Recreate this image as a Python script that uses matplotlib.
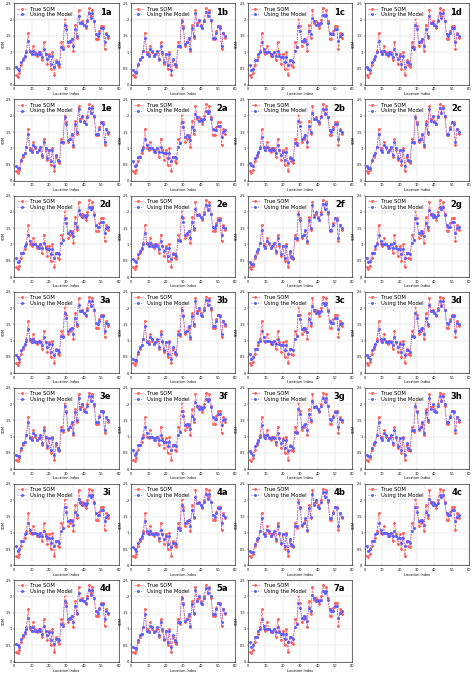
import matplotlib.pyplot as plt

# panel labels
panels = ["1a", "1b", "1c", "1d", "1e", "2a", "2b", "2c", "2d", "2e", "2f", "2g",
          "3a", "3b", "3c", "3d", "3e", "3f", "3g", "3h", "3i", "4a", "4b", "4c",
          "4d", "5a", "7a"]

location = list(range(1, 55))

true_som = [0.30, 0.25, 0.35, 0.60, 0.75, 0.85, 1.05, 1.60, 1.00, 0.95,
            1.20, 1.00, 0.90, 0.95, 1.00, 0.75, 1.30, 0.95, 0.65, 0.95,
            0.50, 1.00, 0.30, 0.75, 0.60, 0.55, 1.30, 1.15, 2.05, 1.80,
            1.20, 1.30, 1.40, 1.05, 1.85, 1.45, 2.30, 1.90, 1.95, 1.85,
            1.75, 2.00, 2.35, 2.10, 2.30, 1.95, 1.40, 1.40, 1.65, 1.80,
            1.80, 1.10, 1.60, 1.45]

model_a = [0.55, 0.50, 0.45, 0.70, 0.80, 0.90, 1.00, 1.35, 1.05, 0.95,
           1.05, 0.95, 0.95, 1.00, 0.95, 0.85, 1.10, 0.95, 0.80, 0.90,
           0.65, 0.90, 0.55, 0.70, 0.70, 0.65, 1.15, 1.10, 1.85, 1.70,
           1.30, 1.35, 1.40, 1.20, 1.70, 1.50, 2.10, 1.90, 1.90, 1.85,
           1.80, 1.95, 2.20, 2.05, 2.20, 1.95, 1.55, 1.50, 1.60, 1.75,
           1.75, 1.30, 1.55, 1.50]

model_b = [0.45, 0.40, 0.40, 0.65, 0.80, 0.85, 1.05, 1.45, 0.95, 0.90,
           1.10, 1.05, 0.90, 0.95, 1.05, 0.80, 1.20, 1.00, 0.70, 0.95,
           0.60, 0.95, 0.45, 0.80, 0.65, 0.60, 1.20, 1.20, 1.95, 1.75,
           1.25, 1.30, 1.45, 1.10, 1.75, 1.50, 2.20, 1.85, 2.00, 1.80,
           1.75, 1.95, 2.25, 2.10, 2.25, 2.00, 1.45, 1.45, 1.60, 1.80,
           1.75, 1.20, 1.60, 1.50]

model_c = [0.60, 0.45, 0.50, 0.75, 0.75, 0.95, 1.00, 1.30, 1.10, 1.00,
           1.00, 1.00, 0.95, 0.90, 1.00, 0.90, 1.05, 0.90, 0.85, 0.85,
           0.70, 0.85, 0.60, 0.75, 0.75, 0.70, 1.05, 1.15, 1.80, 1.65,
           1.35, 1.40, 1.35, 1.25, 1.65, 1.55, 2.05, 1.95, 1.85, 1.90,
           1.85, 1.90, 2.15, 2.10, 2.15, 1.90, 1.60, 1.55, 1.55, 1.70,
           1.70, 1.35, 1.50, 1.55]

models = [model_a, model_b, model_c]

fig, axes = plt.subplots(7, 4, figsize=(4.74, 6.75), dpi=100)
axes = axes.ravel()

for i, ax in enumerate(axes):
    if i >= len(panels):
        ax.axis("off")
        continue
    ax.plot(location, true_som, color="#ff6060", linestyle="--", marker="*",
            markersize=1.5, linewidth=0.5, label="True SOM")
    ax.plot(location, models[i % 3], color="#6060ff", linestyle=":", marker="o",
            markersize=1.2, markerfacecolor="none", linewidth=0.6,
            label="Using the Model")
    ax.set_xlim(0, 60)
    ax.set_ylim(0, 2.5)
    ax.set_xticks(range(0, 61, 10))
    ax.set_yticks([0, 0.5, 1, 1.5, 2, 2.5])
    ax.set_yticklabels(["0", "0.5", "1", "1.5", "2", "2.5"])
    ax.tick_params(labelsize=2.5, length=1, pad=0.8, width=0.3)
    ax.grid(True, linewidth=0.3, alpha=0.5)
    for s in ax.spines.values():
        s.set_linewidth(0.4)
    ax.set_xlabel("Location Index", fontsize=2.5, labelpad=0.5)
    ax.set_ylabel("SOM", fontsize=2.5, labelpad=0.5)
    leg = ax.legend(loc="upper left", fontsize=3.8, handlelength=1.6, borderpad=0.3,
                    labelspacing=0.15, frameon=True, fancybox=False, borderaxespad=0.3)
    leg.get_frame().set_linewidth(0.3)
    ax.text(0.93, 0.86, panels[i], transform=ax.transAxes, ha="right",
            fontsize=6, fontweight="bold")

plt.subplots_adjust(left=0.03, right=0.99, top=0.995, bottom=0.02,
                    wspace=0.12, hspace=0.18)
plt.savefig("out.png", dpi=100)
